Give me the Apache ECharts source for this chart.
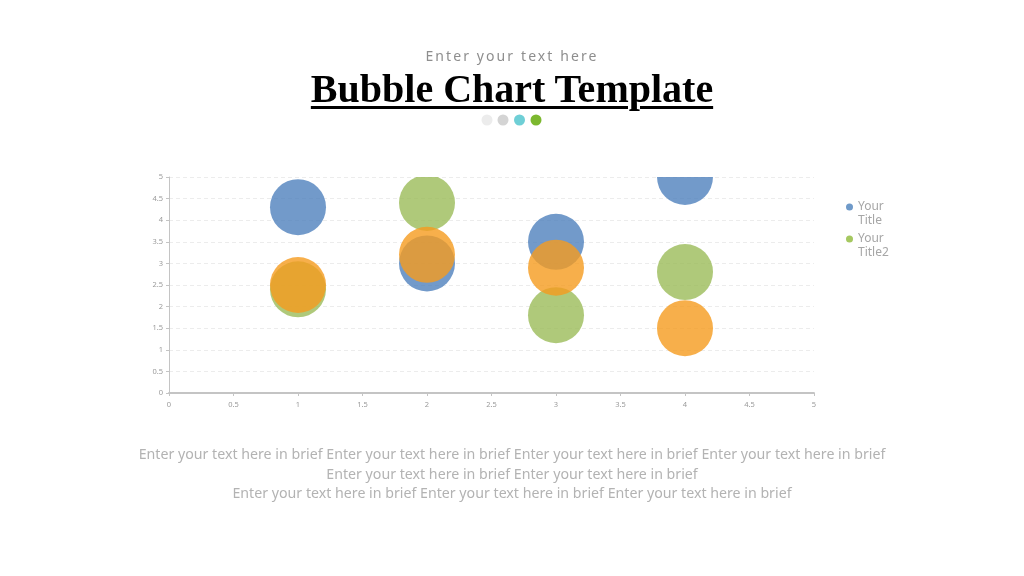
<!DOCTYPE html>
<html>
<head>
<meta charset="utf-8">
<script src="https://cdn.jsdelivr.net/npm/echarts@6/dist/echarts.min.js"></script>
<style>
  html, body { margin:0; padding:0; background:#fff; width:1024px; height:576px; overflow:hidden; }
  #chart { position:absolute; left:0; top:0; width:1024px; height:576px; }
  .txt { position:absolute; left:0; width:1024px; text-align:center; white-space:nowrap; }
  #sub { top:46px; font:14px "Noto Sans", sans-serif; letter-spacing:2.1px; color:#8e8e8e; }
  #title { top:65px; font:bold 40px "Liberation Serif", "Times New Roman", serif; color:#000; text-decoration:underline; text-decoration-thickness:3px; text-underline-offset:4px; }
  #body { top:444px; font:14.2px "Noto Sans", sans-serif; color:#b3b3b3; line-height:19.5px; }
</style>
</head>
<body>
<div id="chart"></div>
<div id="sub" class="txt">Enter your text here</div>
<div id="title" class="txt">Bubble Chart Template</div>
<div id="body" class="txt">Enter your text here in brief Enter your text here in brief Enter your text here in brief Enter your text here in brief<br>Enter your text here in brief Enter your text here in brief<br>Enter your text here in brief Enter your text here in brief Enter your text here in brief</div>
<script>
// Data
const xValues = [1, 2, 3, 4];
const seriesNames = ['Your Title', 'Your Title2', 'Your Title3'];
const blueY   = [4.3, 3.0, 3.5, 5.0];
const greenY  = [2.4, 4.4, 1.8, 2.8];
const orangeY = [2.5, 3.2, 2.9, 1.5];
const axisTicks = [0, 0.5, 1, 1.5, 2, 2.5, 3, 3.5, 4, 4.5, 5];

const colors = ['rgba(79,129,189,0.8)', 'rgba(155,187,89,0.8)', 'rgba(245,155,30,0.8)'];
const legendColors = ['#6f9ac9', '#a5c860'];
const BUBBLE_R = 28;

function toPairs(ys) { return xValues.map((x, i) => [x, ys[i]]); }

function bubbleSeries(name, ys, color) {
  return {
    name: name,
    type: 'custom',
    clip: true,
    data: toPairs(ys),
    encode: { x: 0, y: 1 },
    renderItem: function (params, api) {
      const p = api.coord([api.value(0), api.value(1)]);
      return {
        type: 'circle',
        shape: { cx: p[0], cy: p[1], r: BUBBLE_R },
        style: { fill: color }
      };
    },
    itemStyle: { color: color }
  };
}

const chart = echarts.init(document.getElementById('chart'));
const axisLabelStyle = { fontSize: 7.5, color: '#9a9a9a', fontFamily: 'Noto Sans' };
chart.setOption({
  animation: false,
  backgroundColor: '#fff',
  grid: { left: 169, right: 210, top: 177, bottom: 183 },
  xAxis: {
    type: 'value', min: 0, max: 5, interval: 0.5,
    axisLine: { show: true, lineStyle: { color: '#c4c4c4', width: 1.8 } },
    axisTick: { show: true, length: 3, lineStyle: { color: '#c4c4c4' } },
    axisLabel: Object.assign({ margin: 8 }, axisLabelStyle),
    splitLine: { show: false }
  },
  yAxis: {
    type: 'value', min: 0, max: 5, interval: 0.5,
    axisLine: { show: true, lineStyle: { color: '#c4c4c4', width: 1 } },
    axisTick: { show: true, length: 3, lineStyle: { color: '#c4c4c4' } },
    axisLabel: Object.assign({ margin: 6 }, axisLabelStyle),
    splitLine: { show: true, lineStyle: { color: '#ececec', type: [4, 3], width: 1 } }
  },
  legend: {
    orient: 'vertical',
    left: 846, top: 186, padding: 0,
    itemWidth: 7, itemHeight: 7, itemGap: -10,
    icon: 'circle',
    data: [
      { name: seriesNames[0], itemStyle: { color: legendColors[0] } },
      { name: seriesNames[1], itemStyle: { color: legendColors[1] } }
    ],
    formatter: function (n) { return '\u00a0\n' + n.replace(' ', '\n'); },
    textStyle: { color: '#a6a6a6', fontSize: 12, fontFamily: 'Noto Sans', lineHeight: 14 }
  },
  graphic: [
    { type: 'circle', shape: { cx: 487, cy: 120, r: 5.5 }, style: { fill: '#ececec' } },
    { type: 'circle', shape: { cx: 503, cy: 120, r: 5.5 }, style: { fill: '#d4d4d4' } },
    { type: 'circle', shape: { cx: 519.5, cy: 120, r: 5.5 }, style: { fill: '#6fcfd6' } },
    { type: 'circle', shape: { cx: 536, cy: 120, r: 5.5 }, style: { fill: '#7cb82f' } }
  ],
  series: [
    bubbleSeries(seriesNames[0], blueY, colors[0]),
    bubbleSeries(seriesNames[1], greenY, colors[1]),
    bubbleSeries(seriesNames[2], orangeY, colors[2])
  ]
});
</script>
</body>
</html>
